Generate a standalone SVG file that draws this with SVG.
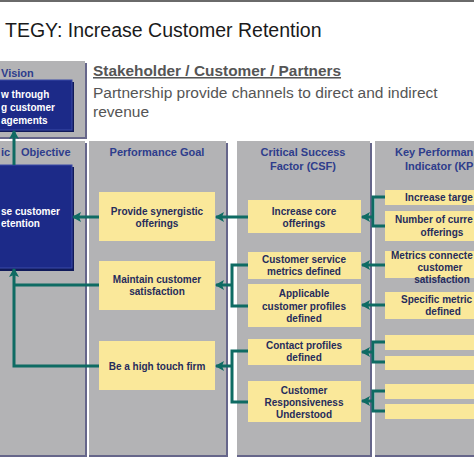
<svg xmlns="http://www.w3.org/2000/svg" width="474" height="474" viewBox="0 0 474 474">
<defs>
<marker id="ah" markerWidth="9" markerHeight="10" refX="8" refY="5" orient="auto" markerUnits="userSpaceOnUse">
<path d="M0,0 L9,5 L0,10 L2,5 Z" fill="#0e6b63"/>
</marker>
</defs>
<style>
.panel{fill:#b3b3b5;stroke:none}
.shadow{fill:#66668a}
.navy{fill:#1c2a88;stroke:#3b4aa8;stroke-width:1}
.nshadow{fill:#101a5a}
.yel{fill:#fae89a}
.hdr{font-family:"Liberation Sans",Arial,sans-serif;font-weight:bold;font-size:11px;fill:#2e3d8c;text-anchor:middle}
.yt{font-family:"Liberation Sans",Arial,sans-serif;font-weight:bold;font-size:10px;fill:#262c5c;text-anchor:middle}
.wt{font-family:"Liberation Sans",Arial,sans-serif;font-weight:bold;font-size:10px;fill:#ffffff;text-anchor:start}
.con{fill:none;stroke:#0e6b63;stroke-width:3}
</style>
<rect x="0" y="0" width="474" height="474" fill="#ffffff"/>
<rect x="0" y="0" width="474" height="2" fill="#6a6a6a"/>
<text x="5" y="37" font-family="Liberation Sans,Arial,sans-serif" font-size="19.5" fill="#1a1a1a">TEGY: Increase Customer Retention</text>
<text x="93" y="76" font-family="Liberation Sans,Arial,sans-serif" font-size="15.4" font-weight="bold" fill="#555555" text-decoration="underline">Stakeholder / Customer / Partners</text>
<text x="93" y="98" font-family="Liberation Sans,Arial,sans-serif" font-size="15.5" fill="#555555">Partnership provide channels to direct and indirect</text>
<text x="93" y="117" font-family="Liberation Sans,Arial,sans-serif" font-size="15.5" fill="#555555">revenue</text>

<g id="vision">
<rect class="shadow" x="0" y="63" width="87" height="76"/>
<rect class="panel" x="0" y="61" width="85" height="76"/>
<text class="hdr" x="1" y="77" style="text-anchor:start">Vision</text>
<rect class="nshadow" x="0" y="82" width="74" height="50"/>
<rect class="navy" x="-1" y="80" width="73" height="50"/>
<text class="wt" x="1" y="98">w through</text>
<text class="wt" x="1" y="111">g customer</text>
<text class="wt" x="1" y="124">agements</text>
</g>

<g id="strategic-objective">
<rect class="shadow" x="0" y="143" width="87" height="314"/>
<rect class="panel" x="0" y="141" width="85" height="314"/>
<text class="hdr" x="1" y="156" style="text-anchor:start">ic</text>
<text class="hdr" x="21" y="156" style="text-anchor:start">Objective</text>
<rect class="nshadow" x="0" y="167" width="74" height="104"/>
<rect class="navy" x="-1" y="165" width="73" height="103"/>
<text class="wt" x="1" y="215">se customer</text>
<text class="wt" x="1" y="227">etention</text>
</g>

<g id="performance-goal">
<rect class="shadow" x="89" y="143" width="139" height="314"/>
<rect class="panel" x="89" y="141" width="137" height="314"/>
<text class="hdr" x="157" y="156">Performance Goal</text>
</g>
<g id="pg1"><rect class="yel" x="99" y="192" width="116" height="49"/>
<text class="yt" x="157" y="215">Provide synergistic</text><text class="yt" x="157" y="227">offerings</text></g>
<g id="pg2"><rect class="yel" x="99" y="261" width="116" height="49"/>
<text class="yt" x="157" y="283">Maintain customer</text><text class="yt" x="157" y="295">satisfaction</text></g>
<g id="pg3"><rect class="yel" x="99" y="341" width="116" height="49"/>
<text class="yt" x="157" y="370">Be a high touch firm</text></g>

<g id="csf">
<rect class="shadow" x="237" y="143" width="135" height="314"/>
<rect class="panel" x="237" y="141" width="133" height="314"/>
<text class="hdr" x="303" y="156">Critical Success</text>
<text class="hdr" x="303" y="170">Factor (CSF)</text>
</g>
<g id="csf1"><rect class="yel" x="248" y="200" width="113" height="33"/>
<text class="yt" x="304" y="215">Increase core</text><text class="yt" x="304" y="227">offerings</text></g>
<g id="csf2"><rect class="yel" x="248" y="252" width="113" height="27"/>
<text class="yt" x="304" y="263">Customer service</text><text class="yt" x="304" y="275">metrics defined</text></g>
<g id="csf3"><rect class="yel" x="248" y="284" width="113" height="43"/>
<text class="yt" x="304" y="297">Applicable</text><text class="yt" x="304" y="310">customer profiles</text><text class="yt" x="304" y="322">defined</text></g>
<g id="csf4"><rect class="yel" x="248" y="339" width="113" height="26"/>
<text class="yt" x="304" y="349">Contact profiles</text><text class="yt" x="304" y="361">defined</text></g>
<g id="csf5"><rect class="yel" x="248" y="381" width="113" height="41"/>
<text class="yt" x="304" y="394">Customer</text><text class="yt" x="304" y="406">Responsiveness</text><text class="yt" x="304" y="418">Understood</text></g>

<g id="kpi">
<rect class="shadow" x="375" y="143" width="101" height="314"/>
<rect class="panel" x="375" y="141" width="101" height="314"/>
<text class="hdr" x="395" y="156" style="text-anchor:start">Key Performan</text>
<text class="hdr" x="405" y="170" style="text-anchor:start">Indicator (KP</text>
</g>
<g id="kpi1"><rect class="yel" x="385" y="190" width="92" height="15"/>
<text class="yt" x="405" y="201" style="text-anchor:start">Increase targe</text></g>
<g id="kpi2"><rect class="yel" x="385" y="211" width="92" height="30"/>
<text class="yt" x="395" y="223" style="text-anchor:start">Number of curre</text><text class="yt" x="442" y="236">offerings</text></g>
<g id="kpi3"><rect class="yel" x="385" y="251" width="92" height="27"/>
<text class="yt" x="391" y="259" style="text-anchor:start">Metrics connecte</text><text class="yt" x="440" y="271">customer</text><text class="yt" x="442" y="283">satisfaction</text></g>
<g id="kpi4"><rect class="yel" x="385" y="292" width="92" height="27"/>
<text class="yt" x="401" y="303" style="text-anchor:start">Specific metric</text><text class="yt" x="443" y="315">defined</text></g>
<g id="kpi5"><rect class="yel" x="385" y="335" width="92" height="15"/></g>
<g id="kpi6"><rect class="yel" x="385" y="356" width="92" height="14"/></g>
<g id="kpi7"><rect class="yel" x="385" y="384" width="92" height="15"/></g>
<g id="kpi8"><rect class="yel" x="385" y="404" width="92" height="15"/></g>

<g id="connectors">
<path class="con" d="M14 165 V131" marker-end="url(#ah)"/>
<path class="con" d="M99 217 H73" marker-end="url(#ah)"/>
<path class="con" d="M99 366 H14 V269" marker-end="url(#ah)"/>
<path class="con" d="M99 285 H14"/>
<path class="con" d="M248 217 H216" marker-end="url(#ah)"/>
<path class="con" d="M248 265 H232 V306 H248"/>
<path class="con" d="M232 285 H216" marker-end="url(#ah)"/>
<path class="con" d="M248 351 H232 V402 H248"/>
<path class="con" d="M232 366 H216" marker-end="url(#ah)"/>
<path class="con" d="M385 197 H373 V226 H385"/>
<path class="con" d="M373 217 H362" marker-end="url(#ah)"/>
<path class="con" d="M385 265 H362" marker-end="url(#ah)"/>
<path class="con" d="M385 305 H362" marker-end="url(#ah)"/>
<path class="con" d="M385 342 H373 V362 H385"/>
<path class="con" d="M373 352 H362" marker-end="url(#ah)"/>
<path class="con" d="M385 391 H373 V411 H385"/>
<path class="con" d="M373 401 H362" marker-end="url(#ah)"/>
</g>
</svg>
